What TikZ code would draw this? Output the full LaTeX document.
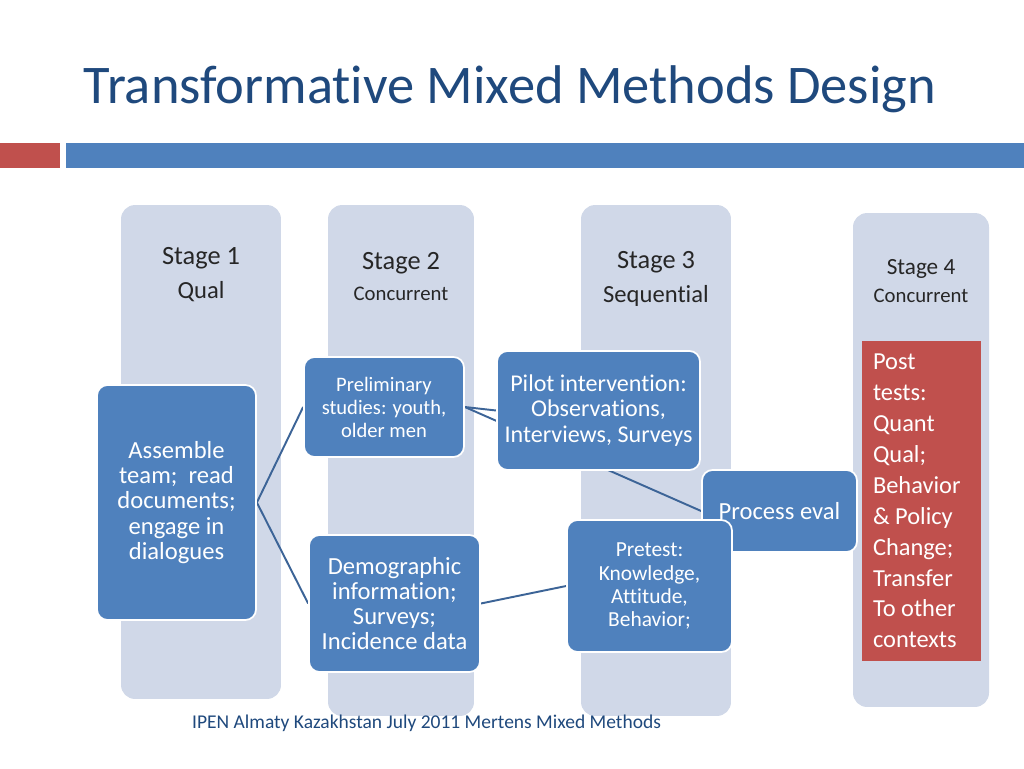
\documentclass[tikz,border=0pt]{standalone}
\usepackage{fontspec}
\setmainfont{Carlito}[Ligatures=NoCommon]
\usepackage{tikz}
\usetikzlibrary{positioning,backgrounds}
\definecolor{titleCol}{HTML}{1F497D}
\definecolor{accBlue}{HTML}{4F81BD}
\definecolor{accRed}{HTML}{C0504D}
\definecolor{colFill}{HTML}{D0D8E8}
\definecolor{linkCol}{HTML}{3C6497}
\pgfdeclarelayer{links}
\pgfsetlayers{background,links,main}
\newcommand{\fs}[2]{\fontsize{#1}{#2}\selectfont}
\tikzset{
  stagecol/.style={fill=colFill, rounded corners=8pt, inner sep=0pt},
  stagelbl/.style={anchor=base, font=\fs{15}{18}, text=black!85},
  substage/.style={anchor=base, font=\fs{11.8}{14}, text=black!85},
  stepbox/.style={draw=white, line width=1pt, fill=accBlue, rounded corners=6pt,
                  text=white, align=center, inner sep=2pt},       % blue SmartArt box
  postbox/.style={fill=accRed, text=white, align=flush left, inner xsep=0.22cm,
                  text width=1.94cm, font=\fs{13.9}{17.6}},        % stage 4 outcome
  link/.style={linkCol, line width=1.1pt},
}

\begin{document}
\begin{tikzpicture}[x=0.02cm, y=-0.02cm]
  \useasboundingbox (0,0) rectangle (1024,768);

  % title and header bars
  \node[anchor=base, font=\fs{31}{36}, text=titleCol] (title) at (510,103) {Transformative Mixed Methods Design};
  \fill[accRed] (0,143) rectangle (60,168);
  \fill[accBlue] (66,143) rectangle (1024,168);

  % stage columns
  \begin{pgfonlayer}{background}
    \fill[white] (0,0) rectangle (1024,768);
    \node[stagecol, minimum width=3.2cm, minimum height=9.88cm] (col1) at (201,452) {};
    \node[stagecol, minimum width=2.92cm, minimum height=10.22cm] (col2) at (401,460.5) {};
    \node[stagecol, minimum width=3.0cm, minimum height=10.22cm] (col3) at (656,460.5) {};
    \node[stagecol, minimum width=2.72cm, minimum height=9.88cm] (col4) at (921,460) {};
  \end{pgfonlayer}

  \node[stagelbl] (st1) at (201,264) {Stage 1};
  \node[stagelbl, font=\fs{14}{17}] (sub1) at (201,298) {Qual};
  \node[stagelbl] (st2) at (401,269) {Stage 2};
  \node[substage] (sub2) at (401,300) {Concurrent};
  \node[stagelbl] (st3) at (656,268) {Stage 3};
  \node[stagelbl, font=\fs{14}{17}] (sub3) at (656,302) {Sequential};
  \node[stagelbl, font=\fs{13.2}{16}] (st4) at (921,274) {Stage 4};
  \node[substage] (sub4) at (921,302) {Concurrent};

  % steps
  \node[stepbox, minimum width=3.18cm, minimum height=4.7cm, font=\fs{14}{14.3}] (assemble) at (176.5,502.5)
    {Assemble\\team;\ \ read\\documents;\\engage in\\dialogues};
  \node[stepbox, minimum width=3.2cm, minimum height=2.0cm, font=\fs{11.7}{13.1}] (prelim) at (384,407)
    {Preliminary\\studies: youth,\\older men};
  \node[stepbox, minimum width=3.42cm, minimum height=2.74cm, font=\fs{14}{14.3}] (demog) at (394.5,603.5)
    {Demographic\\information;\\Surveys;\\Incidence data};
  \node[stepbox, minimum width=3.1cm, minimum height=1.64cm, font=\fs{14}{14.3}] (procev) at (779.5,511)
    {Process eval};
  \node[stepbox, minimum width=4.06cm, minimum height=2.38cm, font=\fs{13.7}{14.3}] (pilot) at (598.5,410.5)
    {Pilot intervention:\\Observations,\\Interviews, Surveys};
  \node[stepbox, minimum width=3.3cm, minimum height=2.64cm, font=\fs{12.2}{13.1}] (pretest) at (649.5,586)
    {Pretest:\\Knowledge,\\Attitude,\\Behavior;};
  \node[postbox, minimum height=6.4cm] (post) at (921.5,501)
    {Post\\tests:\\Quant\\Qual;\\Behavior\\\& Policy\\Change;\\Transfer\\To other\\contexts};

  \begin{pgfonlayer}{links}
    \draw[link] (assemble.east) -- (prelim.west);
    \draw[link] (assemble.east) -- (demog.west);
    \draw[link] (prelim.east) -- (pilot.west);
    \draw[link] (prelim.east) -- (procev.west);
    \draw[link] (demog.east) -- (pretest.west);
  \end{pgfonlayer}

  \node[anchor=base, font=\fs{11.1}{13}, text=titleCol] (footer) at (426.5,728)
    {IPEN Almaty Kazakhstan July 2011 Mertens Mixed Methods};
\end{tikzpicture}
\end{document}
